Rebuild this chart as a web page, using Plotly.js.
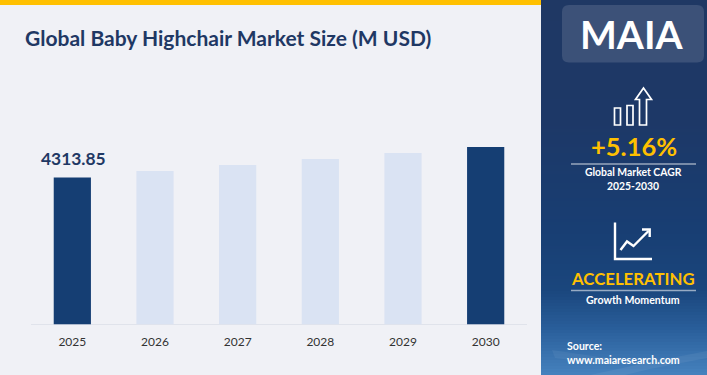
<!DOCTYPE html>
<html><head><meta charset="utf-8">
<script src="https://cdn.plot.ly/plotly-3.0.1.min.js"></script>
<style>html,body{margin:0;padding:0;background:#F0F1F6;overflow:hidden}</style>
</head><body><div id="chart" style="width:707px;height:375px"></div>
<script>
const years = ['2025','2026','2027','2028','2029','2030'];
const marketSize = [4313.85, 4504, 4680, 4857, 5033, 5209];
const barColors = ['#153E73','#DAE3F3','#DAE3F3','#DAE3F3','#DAE3F3','#153E73'];
const W = 707, H = 375;
const px = x => x / W, py = y => 1 - y / H;
const pt = (x, y) => px(x) + ',' + py(y);
const path = pts => 'M' + pts.map(p => px(p[0]) + ',' + py(p[1])).join(' L');

const panelStops = [[0,[31,56,100]],[120,[29,56,103]],[230,[24,62,115]],[290,[26,70,125]],[330,[42,95,155]],[375,[70,130,190]]];
function panelColor(y){
  for(let i=1;i<panelStops.length;i++){
    if(y<=panelStops[i][0]){
      const a=panelStops[i-1], b=panelStops[i], t=(y-a[0])/(b[0]-a[0]);
      const c=a[1].map((v,k)=>Math.round(v+(b[1][k]-v)*t));
      return 'rgb('+c.join(',')+')';
    }
  }
  return 'rgb('+panelStops[panelStops.length-1][1].join(',')+')';
}
const shapes = [];
shapes.push({type:'rect',xref:'paper',yref:'paper',x0:0,x1:px(541),y0:py(0),y1:py(5),fillcolor:'#FFC000',line:{width:0}});
for(let y=0;y<375;y+=3){
  shapes.push({type:'rect',xref:'paper',yref:'paper',x0:px(541),x1:1,y0:py(y),y1:py(y+3),fillcolor:panelColor(y+1.5),line:{width:0}});
}
function rr(x0,y0,x1,y1,r){
  return 'M'+pt(x0+r,y0)+' L'+pt(x1-r,y0)+' Q'+pt(x1,y0)+' '+pt(x1,y0+r)+' L'+pt(x1,y1-r)+' Q'+pt(x1,y1)+' '+pt(x1-r,y1)+' L'+pt(x0+r,y1)+' Q'+pt(x0,y1)+' '+pt(x0,y1-r)+' L'+pt(x0,y0+r)+' Q'+pt(x0,y0)+' '+pt(x0+r,y0)+' Z';
}
const pathShape=(d,opts)=>Object.assign({type:'path',xref:'paper',yref:'paper',path:d},opts);
shapes.push(pathShape(rr(562,5,704,62.5,7),{fillcolor:'rgba(255,255,255,0.13)',line:{width:0}}));
shapes.push(pathShape(path([[552,350],[600,357],[640,362],[600,364],[555,358]])+' Z',{fillcolor:'rgba(255,255,255,0.05)',line:{width:0}}));
shapes.push(pathShape(path([[590,375],[650,362],[707,351],[707,358],[650,369],[625,375]])+' Z',{fillcolor:'rgba(255,255,255,0.06)',line:{width:0}}));
const ic={color:'#FFFFFF',width:1.7};
shapes.push(pathShape(path([[614.5,108],[620.5,108],[620.5,125],[614.5,125]])+' Z',{line:ic}));
shapes.push(pathShape(path([[627,105.5],[633,105.5],[633,125],[627,125]])+' Z',{line:ic}));
shapes.push(pathShape(path([[639.5,125],[639.5,99.5],[635.5,99.5],[643.5,88],[651.5,99.5],[646.5,99.5],[646.5,125]])+' Z',{line:ic}));
shapes.push({type:'line',xref:'paper',yref:'paper',x0:px(571),x1:px(696),y0:py(164),y1:py(164),line:{color:'rgba(255,255,255,0.55)',width:1.5}});
shapes.push({type:'line',xref:'paper',yref:'paper',x0:px(571),x1:px(696),y0:py(290.5),y1:py(290.5),line:{color:'rgba(255,255,255,0.55)',width:1.5}});
const ic2={color:'#FFFFFF',width:2.4};
shapes.push(pathShape(path([[615,222.5],[615,259],[652,259]]),{line:ic2}));
shapes.push(pathShape(path([[620.5,250],[627,241.5],[633.5,246],[648.5,231]]),{line:ic2}));
shapes.push(pathShape(path([[642,229.5],[649.7,229.5],[649.7,237]]),{line:ic2}));
shapes.push({type:'line',xref:'paper',yref:'paper',x0:px(31),x1:px(527),y0:py(324.5),y1:py(324.5),line:{color:'#E0E3EB',width:1},layer:'below'});

const font='Lato, Carlito, sans-serif';
const note=(text,x,y,size,color,anchor)=>({text:'<b>'+text+'</b>',xref:'paper',yref:'paper',x:px(x),y:py(y),xanchor:anchor||'center',yanchor:'middle',showarrow:false,font:{family:font,size:size,color:color}});
const annotations=[
 note('Global Baby Highchair Market Size (M USD)',23,37,21,'#1F3864','left'),
 note('MAIA',632,34,39,'#FFFFFF'),
 note('+5.16%',634,146,25.5,'#FFC000'),
 note('Global Market CAGR',633,172,10.4,'#FFFFFF'),
 note('2025-2030',633,186,10.4,'#FFFFFF'),
 note('ACCELERATING',633,278,16.8,'#FFC000'),
 note('Growth Momentum',633,299.5,10.6,'#FFFFFF'),
 note('Source:',565,345.5,10.6,'#FFFFFF','left'),
 note('www.maiaresearch.com',565,360,10.6,'#FFFFFF','left'),
 {text:'<b>'+marketSize[0].toFixed(2)+'</b>',xref:'x',yref:'y',x:0,y:marketSize[0],xanchor:'center',yanchor:'bottom',xshift:1.5,yshift:6,showarrow:false,font:{family:font,size:17.4,color:'#1F3864'}}
];
const trace={type:'bar',x:years,y:marketSize,marker:{color:barColors,line:{width:0}},width:0.45,hoverinfo:'x+y'};
const layout={width:W,height:H,margin:{l:0,r:0,t:0,b:0},paper_bgcolor:'#F0F1F6',plot_bgcolor:'rgba(0,0,0,0)',showlegend:false,
  xaxis:{domain:[px(31),px(527)],type:'category',range:[-0.5,5.5],showgrid:false,zeroline:false,showline:false,ticks:'',tickfont:{family:font,size:12,color:'#333333'},tickangle:0,ticklabelstandoff:8},
  yaxis:{domain:[py(324.5),py(100)],range:[0,224.5/147*4313.85],visible:false,showgrid:false,zeroline:false},
  shapes,annotations};
Plotly.newPlot('chart',[trace],layout,{displayModeBar:false,responsive:false});
</script></body></html>
